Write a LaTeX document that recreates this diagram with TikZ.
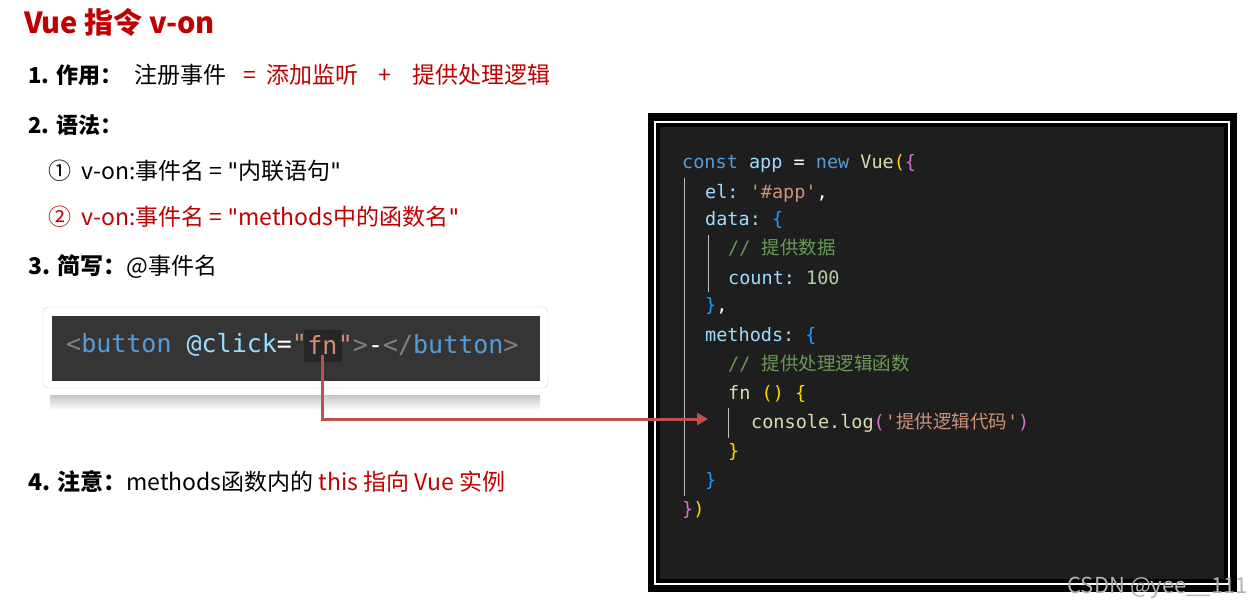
\documentclass[tikz,border=0pt]{standalone}
\usepackage{fontspec}
\setmainfont{Noto Sans CJK SC}
\newfontfamily\cjk{Noto Sans CJK SC}
\newfontfamily\qf{DejaVu Sans}
\setmonofont{DejaVu Sans Mono}
\usetikzlibrary{arrows.meta}
\definecolor{vred}{HTML}{C00000}
\definecolor{codebg}{HTML}{1E1E1E}
\definecolor{kw}{HTML}{569CD6}
\definecolor{var}{HTML}{9CDCFE}
\definecolor{fnc}{HTML}{DCDCAA}
\definecolor{str}{HTML}{CE9178}
\definecolor{cmt}{HTML}{6A9955}
\definecolor{num}{HTML}{B5CEA8}
\definecolor{pk}{HTML}{DA70D6}
\definecolor{yb}{HTML}{FFD700}
\definecolor{bb}{HTML}{179FFF}
\definecolor{arr}{HTML}{C0504D}
\newcommand{\cc}[1]{{\cjk #1}}
\newcommand{\dq}{{\qf\char"22}}
\tikzset{
  txt/.style={anchor=west, inner sep=0pt, font=\fontsize{23}{27}\selectfont},
  code/.style={anchor=west, inner sep=0pt, font=\ttfamily\fontsize{18.5}{22}\selectfont, text=var},
}
\begin{document}
\begin{tikzpicture}[x=1pt,y=-1pt]
\useasboundingbox (0,0) rectangle (1252,609);
\fill[white] (0,0) rectangle (1252,609);
\node[anchor=west,inner sep=0pt,text=vred,font=\bfseries\fontsize{29}{33}\selectfont] (title) at (24,22) {Vue 指令 v-on};
\node[txt,font=\bfseries\fontsize{22}{26}\selectfont] (l1) at (28,75) {1. 作用：};
\node[txt] (l1b) at (134,75) {注册事件};
\node[txt,text=vred] (l1c) at (243,75) {=\ \ 添加监听\ \ \ \ +\ \ \ \ 提供处理逻辑};
\node[txt,font=\bfseries\fontsize{22}{26}\selectfont] (l2) at (28,125) {2. 语法：};
\node[txt] (l2a) at (48,171) {①\ \ v-on:事件名 = \dq 内联语句\dq};
\node[txt,text=vred] (l2b) at (48,217) {②\ \ v-on:事件名 = \dq methods中的函数名\dq};
\node[txt] (l3) at (28,267) {\textbf{3. 简写：}@事件名};
\node[txt] (l4) at (28,482) {\textbf{4. 注意：}methods函数内的 \textcolor{vred}{this 指向 Vue 实例}};
% button snippet
\shade[top color=gray!45,bottom color=white] (50,395) rectangle (540,410);
\draw[gray!35,fill=white,rounded corners=5pt] (43,307) rectangle (548,388);
\fill[codebg!90!white] (52,316) rectangle (540,381);
\fill[black!85] (304,330) rectangle (342,362);
\node[anchor=west,inner sep=0pt,font=\ttfamily\fontsize{25}{30}\selectfont] (btn) at (66,345)
 {\textcolor{gray}{<}\textcolor{kw}{button} \textcolor{var}{@click}\textcolor{white}{=}\textcolor{str}{"}};
\node[anchor=west,inner sep=0pt,font=\ttfamily\fontsize{25}{30}\selectfont,text=str] (fn) at (btn.east) {fn};
\node[anchor=west,inner sep=0pt,font=\ttfamily\fontsize{25}{30}\selectfont] (btn2) at (fn.east)
 {\textcolor{str}{"}\textcolor{gray}{>}\textcolor{white}{-}\textcolor{gray}{</}\textcolor{kw}{button}\textcolor{gray}{>}};
% code box
\fill[black] (648,113) rectangle (1237,592);
\draw[white,line width=2pt] (655,122) rectangle (1229,584);
\fill[codebg] (660,127) rectangle (1224,579);
\draw[gray!50,line width=0.6pt] (684,178) -- (684,496);
\draw[gray!50,line width=0.6pt] (708,235) -- (708,292);
\draw[gray!50,line width=0.6pt] (728,408) -- (728,438);
\node[code] (c1) at (682,163) {\textcolor{kw}{const} app \textcolor{white}{=} \textcolor{kw}{new} \textcolor{fnc}{Vue}\textcolor{yb}{(}\textcolor{pk}{\{}};
\node[code] (c2) at (705,193) {el: \textcolor{str}{'\#app'}\textcolor{white}{,}};
\node[code] (c3) at (705,220) {data: \textcolor{bb}{\{}};
\node[code,text=cmt] (c4) at (728,248) {// \cc{提供数据}};
\node[code] (c5) at (728,278) {count: \textcolor{num}{100}};
\node[code] (c6) at (705,306) {\textcolor{bb}{\}}\textcolor{white}{,}};
\node[code] (c7) at (705,336) {methods: \textcolor{bb}{\{}};
\node[code,text=cmt] (c8) at (728,364) {// \cc{提供处理逻辑函数}};
\node[code] (c9) at (728,394) {\textcolor{fnc}{fn} \textcolor{yb}{() \{}};
\node[code] (c10) at (751,423) {\textcolor{fnc}{console.log}\textcolor{pk}{(}\textcolor{str}{'\cc{提供逻辑代码}'}\textcolor{pk}{)}};
\node[code,text=yb] (c11) at (728,452) {\}};
\node[code,text=bb] (c12) at (705,481) {\}};
\node[code,text=pk] (c13) at (682,510) {\}\textcolor{yb}{)}};
\coordinate (tgt) at (708,419);
\draw[arr,line width=3pt,-{Triangle[length=11pt,width=12pt]}] (fn.south) -- (fn.south |- tgt) -- (tgt);
\node[anchor=east,inner sep=0pt,text=gray!60,font=\fontsize{22}{26}\selectfont] (wm) at (1248,588) {CSDN @yee\_\_111};
\end{tikzpicture}
\end{document}
